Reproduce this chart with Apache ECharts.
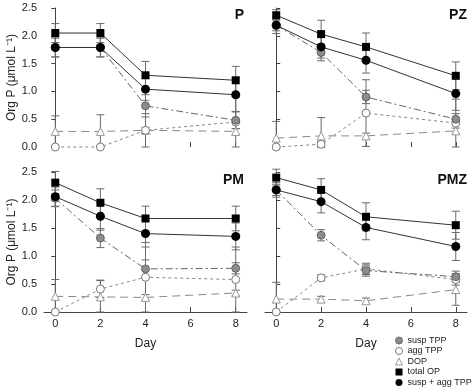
<!DOCTYPE html>
<html>
<head>
<meta charset="utf-8">
<script src="https://cdn.jsdelivr.net/npm/echarts@6/dist/echarts.min.js"></script>
<style>html,body{margin:0;padding:0;background:#fff}#c{width:474px;height:388px}</style>
</head>
<body>
<div id="c"></div>
<script>
// ---- data ----
const days = [0, 2, 4, 8];
const xTicks = [0, 2, 4, 6, 8];
const yTicks = [0, 0.5, 1.0, 1.5, 2.0, 2.5];
const panelNames = ['P', 'PZ', 'PM', 'PMZ'];
const seriesNames = ['susp TPP', 'agg TPP', 'DOP', 'total OP', 'susp + agg TPP'];

// P
const P_susp = [1.79, 1.79, 0.74, 0.48];
const P_agg = [0.0, 0.0, 0.30, 0.45];
const P_dop = [0.28, 0.28, 0.30, 0.28];
const P_total = [2.05, 2.05, 1.29, 1.20];
const P_sum = [1.79, 1.79, 1.04, 0.94];
const P_suspErr = [0.17, 0.17, 0.2, 0.15];
const P_aggErr = [0, 0, 0.3, 0.45];
const P_dopErr = [0.28, 0.3, 0.05, 0.05];
const P_totalErr = [0.17, 0.17, 0.25, 0.25];
const P_sumErr = [0.17, 0.17, 0.2, 0.3];

// PZ
const PZ_susp = [2.19, 1.70, 0.90, 0.50];
const PZ_agg = [0.0, 0.05, 0.61, 0.43];
const PZ_dop = [0.16, 0.20, 0.20, 0.29];
const PZ_total = [2.37, 2.03, 1.80, 1.28];
const PZ_sum = [2.19, 1.80, 1.56, 0.96];
const PZ_suspErr = [0.1, 0.15, 0.12, 0.1];
const PZ_aggErr = [0, 0.05, 0.6, 0.43];
const PZ_dopErr = [0.3, 0.33, 0.05, 0.05];
const PZ_totalErr = [0.1, 0.25, 0.25, 0.25];
const PZ_sumErr = [0.15, 0.2, 0.23, 0.3];

// PM
const PM_susp = [2.03, 1.32, 0.77, 0.78];
const PM_agg = [0.0, 0.41, 0.62, 0.58];
const PM_dop = [0.28, 0.27, 0.26, 0.34];
const PM_total = [2.31, 1.95, 1.67, 1.67];
const PM_sum = [2.06, 1.71, 1.40, 1.35];
const PM_suspErr = [0.15, 0.17, 0.16, 0.1];
const PM_aggErr = [0, 0.15, 0.62, 0.58];
const PM_dopErr = [0.3, 0.3, 0.05, 0.05];
const PM_totalErr = [0.2, 0.25, 0.22, 0.22];
const PM_sumErr = [0.17, 0.25, 0.24, 0.24];

// PMZ
const PMZ_susp = [2.18, 1.37, 0.74, 0.63];
const PMZ_agg = [0.0, 0.61, 0.77, 0.58];
const PMZ_dop = [0.23, 0.23, 0.20, 0.40];
const PMZ_total = [2.40, 2.18, 1.70, 1.55];
const PMZ_sum = [2.18, 1.97, 1.51, 1.17];
const PMZ_suspErr = [0.1, 0.1, 0.1, 0.1];
const PMZ_aggErr = [0, 0.05, 0.1, 0.1];
const PMZ_dopErr = [0.3, 0.05, 0.05, 0.28];
const PMZ_totalErr = [0.15, 0.2, 0.25, 0.25];
const PMZ_sumErr = [0.13, 0.2, 0.22, 0.25];

// ---- build ----
const panelData = [
  [P_susp, P_agg, P_dop, P_total, P_sum],
  [PZ_susp, PZ_agg, PZ_dop, PZ_total, PZ_sum],
  [PM_susp, PM_agg, PM_dop, PM_total, PM_sum],
  [PMZ_susp, PMZ_agg, PMZ_dop, PMZ_total, PMZ_sum]
];
const panelErr = [
  [P_suspErr, P_aggErr, P_dopErr, P_totalErr, P_sumErr],
  [PZ_suspErr, PZ_aggErr, PZ_dopErr, PZ_totalErr, PZ_sumErr],
  [PM_suspErr, PM_aggErr, PM_dopErr, PM_totalErr, PM_sumErr],
  [PMZ_suspErr, PMZ_aggErr, PMZ_dopErr, PMZ_totalErr, PMZ_sumErr]
];

const FONT = 'Liberation Sans, Arial, sans-serif';
const styles = [
  { symbol: 'circle', size: 8, item: { color: '#8c8c8c', borderColor: '#555', borderWidth: 0.8 }, line: { color: '#666', width: 1, type: [7, 3, 2, 3] }, z: 4 },
  { symbol: 'circle', size: 8, item: { color: '#fff', borderColor: '#777', borderWidth: 1 }, line: { color: '#888', width: 1, type: [3, 3] }, z: 3 },
  { symbol: 'triangle', size: 8, item: { color: '#fff', borderColor: '#999', borderWidth: 1 }, line: { color: '#888', width: 1, type: [8, 5] }, z: 2 },
  { symbol: 'rect', size: 8, item: { color: '#000', borderColor: '#000', borderWidth: 0 }, line: { color: '#333', width: 1, type: 'solid' }, z: 6 },
  { symbol: 'circle', size: 9, item: { color: '#000', borderColor: '#000', borderWidth: 0 }, line: { color: '#333', width: 1, type: 'solid' }, z: 5 }
];

const grids = [
  { left: 44, top: 8, width: 203, height: 139 },
  { left: 265, top: 8, width: 202, height: 139 },
  { left: 44, top: 172, width: 203, height: 140 },
  { left: 265, top: 172, width: 202, height: 140 }
];

const xAxes = grids.map((g, i) => {
  const bottom = i >= 2;
  return {
    gridIndex: i, type: 'value', min: -0.5, max: 8.5,
    axisLine: { show: bottom, onZero: false, lineStyle: { color: '#444', width: 1 } },
    axisTick: { show: true, inside: true, length: 5, customValues: xTicks, lineStyle: { color: '#444' } },
    axisLabel: { show: bottom, customValues: xTicks, color: '#222', fontSize: 11, fontFamily: FONT, margin: 6 },
    splitLine: { show: false },
    name: bottom ? 'Day' : '', nameLocation: 'middle', nameGap: 26,
    nameTextStyle: { fontSize: 12, fontFamily: FONT, color: '#222' }
  };
});

const yAxes = grids.map((g, i) => {
  const left = (i % 2 === 0);
  return {
    gridIndex: i, type: 'value', min: 0, max: 2.5, interval: 0.5,
    axisLine: { show: true, lineStyle: { color: '#444', width: 1 } },
    axisTick: { show: true, inside: !left, length: 4, lineStyle: { color: '#444' } },
    axisLabel: { show: left, color: '#222', fontSize: 11, fontFamily: FONT, margin: 7, formatter: v => v.toFixed(1) },
    splitLine: { show: false },
    name: left ? 'Org P (μmol L⁻¹)' : '', nameLocation: 'middle', nameGap: 26, nameRotate: 90,
    nameTextStyle: { fontSize: 12, fontFamily: FONT, color: '#222' }
  };
});

function errRender(params, api) {
  const x = api.value(0), y = api.value(1), e = api.value(2);
  if (!(e > 0)) return null;
  const top = api.coord([x, y + e]);
  const bot = api.coord([x, Math.max(0, y - e)]);
  const w = 4;
  const st = { stroke: '#6a6a6a', lineWidth: 1 };
  return {
    type: 'group',
    children: [
      { type: 'line', shape: { x1: top[0], y1: top[1], x2: bot[0], y2: bot[1] }, style: st },
      { type: 'line', shape: { x1: top[0] - w, y1: top[1], x2: top[0] + w, y2: top[1] }, style: st },
      { type: 'line', shape: { x1: bot[0] - w, y1: bot[1], x2: bot[0] + w, y2: bot[1] }, style: st }
    ]
  };
}

const series = [];
panelData.forEach((arrs, p) => {
  arrs.forEach((vals, s) => {
    const errs = panelErr[p][s];
    series.push({
      type: 'custom', xAxisIndex: p, yAxisIndex: p, renderItem: errRender, z: 1,
      silent: true, clip: false,
      data: days.map((d, k) => [d, vals[k], errs[k]])
    });
  });
  arrs.forEach((vals, s) => {
    const st = styles[s];
    series.push({
      type: 'line', name: seriesNames[s], xAxisIndex: p, yAxisIndex: p,
      data: days.map((d, k) => [d, vals[k]]),
      symbol: st.symbol, symbolSize: st.size, showSymbol: true,
      itemStyle: st.item, lineStyle: st.line, z: st.z,
      animation: false, clip: false
    });
  });
});

const titlePos = [
  { right: 474 - 244, top: 8 },
  { right: 474 - 467, top: 8 },
  { right: 474 - 244, top: 173 },
  { right: 474 - 467, top: 173 }
];
const graphic = panelNames.map((n, i) => ({
  type: 'text', right: titlePos[i].right, top: titlePos[i].top,
  style: { text: n, font: 'bold 14px ' + FONT, fill: '#111' }
}));

const chart = echarts.init(document.getElementById('c'), null, { renderer: 'canvas' });
chart.setOption({
  animation: false,
  backgroundColor: '#fff',
  grid: grids,
  xAxis: xAxes,
  yAxis: yAxes,
  series: series,
  graphic: graphic,
  legend: {
    orient: 'vertical', left: 395, top: 336, itemWidth: 7, itemHeight: 7, itemGap: 1.5,
    padding: 0, selectedMode: false,
    textStyle: { fontSize: 9, fontFamily: FONT, color: '#222', lineHeight: 9 },
    data: [
      { name: 'susp TPP', icon: 'circle', itemStyle: { color: '#8c8c8c', borderColor: '#555', borderWidth: 0.8 } },
      { name: 'agg TPP', icon: 'circle', itemStyle: { color: '#fff', borderColor: '#777', borderWidth: 1 } },
      { name: 'DOP', icon: 'triangle', itemStyle: { color: '#fff', borderColor: '#999', borderWidth: 1 } },
      { name: 'total OP', icon: 'rect', itemStyle: { color: '#000', borderWidth: 0 } },
      { name: 'susp + agg TPP', icon: 'circle', itemStyle: { color: '#000', borderWidth: 0 } }
    ]
  }
});
</script>
</body>
</html>
